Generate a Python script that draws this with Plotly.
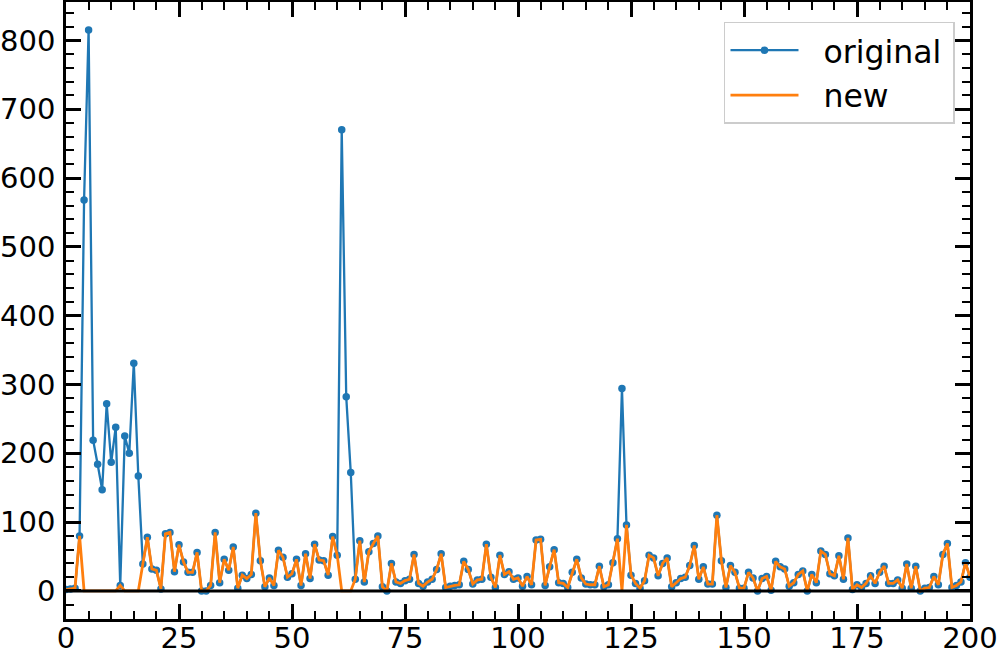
import plotly.graph_objects as go

x = list(range(201))

original = [
    2, 3, 4, 80, 568, 815, 219, 184, 147, 272,
    187, 238, 8, 225, 200, 331, 167, 39, 78, 32,
    30, 3, 83, 85, 28, 67, 42, 27, 27, 56,
    0, 0, 8, 85, 12, 46, 30, 64, 4, 23,
    18, 24, 113, 44, 6, 19, 8, 59, 49, 20,
    25, 46, 8, 54, 18, 68, 45, 44, 23, 79,
    52, 670, 282, 172, 17, 73, 13, 57, 69, 80,
    6, 0, 40, 13, 11, 15, 17, 53, 11, 7,
    13, 17, 31, 54, 5, 7, 8, 9, 43, 31,
    10, 16, 17, 68, 20, 5, 52, 24, 28, 17,
    19, 7, 21, 9, 74, 75, 8, 35, 60, 12,
    11, 5, 27, 46, 19, 10, 9, 9, 36, 6,
    9, 41, 76, 294, 96, 23, 11, 4, 15, 52,
    48, 22, 40, 48, 6, 12, 18, 20, 37, 66,
    17, 35, 10, 10, 110, 44, 5, 37, 27, 4,
    4, 27, 19, 0, 18, 21, 1, 43, 35, 32,
    7, 12, 24, 29, 0, 24, 12, 58, 53, 25,
    22, 51, 17, 77, 2, 9, 5, 11, 22, 11,
    27, 36, 11, 11, 16, 4, 39, 4, 36, 0,
    4, 5, 21, 9, 53, 69, 5, 8, 13, 41,
    20,
]

new = [
    2, 3, 4, 80, 0, 0, 0, 0, 0, 0,
    0, 0, 8, 0, 0, 0, 0, 39, 78, 32,
    30, 3, 83, 85, 28, 67, 42, 27, 27, 56,
    0, 0, 8, 85, 12, 46, 30, 64, 4, 23,
    18, 24, 113, 44, 6, 19, 8, 59, 49, 20,
    25, 46, 8, 54, 18, 68, 45, 44, 23, 79,
    52, 0, 0, 0, 17, 73, 13, 57, 69, 80,
    6, 0, 40, 13, 11, 15, 17, 53, 11, 7,
    13, 17, 31, 54, 5, 7, 8, 9, 43, 31,
    10, 16, 17, 68, 20, 5, 52, 24, 28, 17,
    19, 7, 21, 9, 74, 75, 8, 35, 60, 12,
    11, 5, 27, 46, 19, 10, 9, 9, 36, 6,
    9, 41, 76, 0, 96, 23, 11, 4, 15, 52,
    48, 22, 40, 48, 6, 12, 18, 20, 37, 66,
    17, 35, 10, 10, 110, 44, 5, 37, 27, 4,
    4, 27, 19, 0, 18, 21, 1, 43, 35, 32,
    7, 12, 24, 29, 0, 24, 12, 58, 53, 25,
    22, 51, 17, 77, 2, 9, 5, 11, 22, 11,
    27, 36, 11, 11, 16, 4, 39, 4, 36, 0,
    4, 5, 21, 9, 53, 69, 5, 8, 13, 41,
    20,
]

x_ticks = [0, 25, 50, 75, 100, 125, 150, 175, 200]
y_ticks = [0, 100, 200, 300, 400, 500, 600, 700, 800]
series_names = ["original", "new"]

BLUE = "#1f77b4"
ORANGE = "#ff7f0e"
FONT = "DejaVu Sans"
GAP = "\u00a0\u00a0"
TAIL = "\u2009"

fig = go.Figure()
fig.add_trace(go.Scatter(
    x=x, y=original, mode="lines+markers", name=GAP + series_names[0] + TAIL,
    legendgroup="a",
    line=dict(color=BLUE, width=2.3),
    marker=dict(size=7.5, color=BLUE),
))
fig.add_trace(go.Scatter(
    x=x, y=new, mode="lines", name=GAP + series_names[1],
    legendgroup="b",
    line=dict(color=ORANGE, width=2.8),
))
fig.add_hline(y=0, line=dict(color="black", width=3), layer="above")

axis_common = dict(
    showgrid=False, zeroline=False, automargin=False,
    showline=True, linecolor="black", linewidth=2.5, mirror="allticks",
    ticks="inside", ticklen=15, tickwidth=2.5, tickcolor="black",
    tickfont=dict(family=FONT, size=29, color="black"),
)

fig.update_layout(
    width=1000, height=650,
    margin=dict(l=65.5, r=30, t=2, b=31),
    plot_bgcolor="white", paper_bgcolor="white",
    font=dict(family=FONT, size=28, color="black"),
    xaxis=dict(
        range=[0, 200], tickvals=x_ticks, ticklabelstandoff=-9,
        minor=dict(ticks="inside", ticklen=8, tickwidth=1.8, tickcolor="black", dtick=5),
        **axis_common,
    ),
    yaxis=dict(
        range=[-40.75, 855.75], tickvals=y_ticks, ticklabelstandoff=2,
        minor=dict(ticks="inside", ticklen=8, tickwidth=1.8, tickcolor="black", dtick=20),
        **axis_common,
    ),
    legend=dict(
        x=0.9834, xanchor="right", y=0.968, yanchor="top",
        bgcolor="rgba(255,255,255,0.8)", bordercolor="#cccccc", borderwidth=1.5,
        font=dict(family=FONT, size=31.5, color="black"),
        itemwidth=68, tracegroupgap=1,
    ),
    showlegend=True,
)

fig.write_html(
    "out.html",
    config={"displayModeBar": False},
    post_script="document.body.style.margin='0';document.body.style.overflow='hidden';",
)
